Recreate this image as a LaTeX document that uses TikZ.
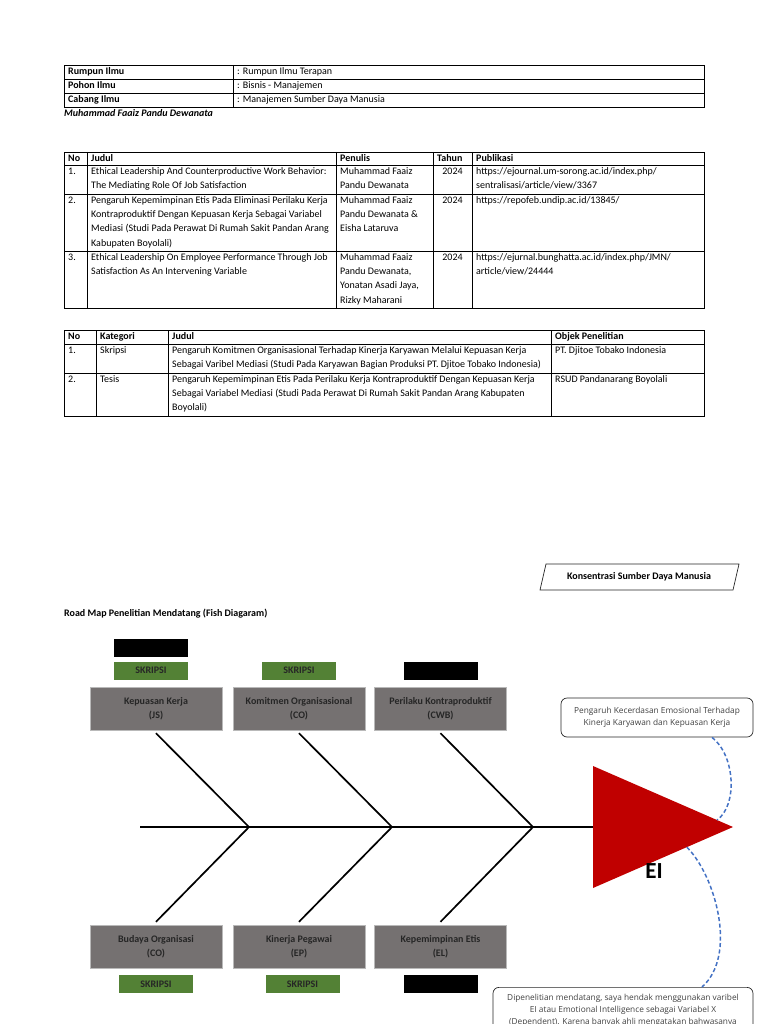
\documentclass[tikz,border=0pt]{standalone}
\usepackage{fontspec}
\setmainfont{Carlito}
\newfontfamily\notefont{Open Sans}
\usetikzlibrary{positioning,calc}

\definecolor{boxgray}{HTML}{757171}
\definecolor{tagGreen}{HTML}{538135}
\definecolor{headRed}{HTML}{C00000}
\definecolor{linkBlue}{HTML}{4472C4}
\definecolor{textDark}{HTML}{262626}
\definecolor{noteText}{HTML}{404040}

\newcommand{\tabfont}{\fontsize{10}{14.3}\selectfont}
\newcommand{\cellstrut}{\rule{0pt}{9pt}}

\begin{document}
\begin{tikzpicture}[x=1pt, y=-1pt,
  cell/.style={anchor=north west, inner sep=0pt, align=left, font=\tabfont, execute at begin node=\cellstrut},
  head/.style={cell, font=\tabfont\bfseries},
  year/.style={cell, anchor=north, align=center},
  grid/.style={line width=0.7pt},
  factor/.style={fill=boxgray, draw=gray!55, minimum width=132, minimum height=43, inner sep=0pt,
    align=center, font=\fontsize{10}{14}\selectfont\bfseries, text=textDark},
  tag/.style={minimum width=74, minimum height=18, inner sep=0pt, font=\fontsize{10}{12}\selectfont\bfseries},
  skripsi/.style={tag, fill=tagGreen, text=textDark},
  hidden/.style={tag, fill=black},
  bone/.style={line width=1.7pt},
  note/.style={draw=textDark, line width=0.7pt, rounded corners=6pt, align=center, inner sep=0pt,
    font=\notefont\fontsize{8.3}{12}\selectfont, text=noteText},
  link/.style={linkBlue, dash pattern=on 4pt off 2.5pt, line width=1.5pt}
]
\useasboundingbox (0,0) rectangle (768,1024);

% bidang ilmu
\draw[grid] (64,65) rectangle (704,107);
\draw[grid] (64,79) -- (704,79) (64,93) -- (704,93) (233,65) -- (233,107);
\node[head] (rumpun) at (68,65) {Rumpun Ilmu};
\node[head] (pohon) at (68,79) {Pohon Ilmu};
\node[head] (cabang) at (68,93) {Cabang Ilmu};
\node[cell] (rumpunv) at (237,65) {: Rumpun Ilmu Terapan};
\node[cell] (pohonv) at (237,79) {: Bisnis - Manajemen};
\node[cell] (cabangv) at (237,93) {: Manajemen Sumber Daya Manusia};
\node[cell, font=\tabfont\bfseries\itshape] (peneliti) at (64,107) {Muhammad Faaiz Pandu Dewanata};

% publikasi
\draw[grid] (64,152) rectangle (704,308);
\draw[grid] (64,165) -- (704,165) (64,194) -- (704,194) (64,251) -- (704,251);
\foreach \x in {87,336,433,472} \draw[grid] (\x,152) -- (\x,308);
\node[head] (pno) at (68,152) {No};
\node[head] (pjudul) at (91,152) {Judul};
\node[head] (ppenulis) at (340,152) {Penulis};
\node[head] (ptahun) at (437,152) {Tahun};
\node[head] (ppub) at (476,152) {Publikasi};

\node[cell] (p1no) at (68,165) {1.};
\node[cell] (p1judul) at (91,165) {\cellstrut Ethical Leadership And Counterproductive Work Behavior:\\The Mediating Role Of Job Satisfaction};
\node[cell] (p1penulis) at (340,165) {\cellstrut Muhammad Faaiz\\Pandu Dewanata};
\node[year] (p1tahun) at (452.5,165) {2024};
\node[cell] (p1pub) at (476,165) {\cellstrut https://ejournal.um-sorong.ac.id/index.php/\\sentralisasi/article/view/3367};

\node[cell] (p2no) at (68,194) {2.};
\node[cell] (p2judul) at (91,194) {\cellstrut Pengaruh Kepemimpinan Etis Pada Eliminasi Perilaku Kerja\\Kontraproduktif Dengan Kepuasan Kerja Sebagai Variabel\\Mediasi (Studi Pada Perawat Di Rumah Sakit Pandan Arang\\Kabupaten Boyolali)};
\node[cell] (p2penulis) at (340,194) {\cellstrut Muhammad Faaiz\\Pandu Dewanata \&\\Eisha Lataruva};
\node[year] (p2tahun) at (452.5,194) {2024};
\node[cell] (p2pub) at (476,194) {https://repofeb.undip.ac.id/13845/};

\node[cell] (p3no) at (68,251) {3.};
\node[cell] (p3judul) at (91,251) {\cellstrut Ethical Leadership On Employee Performance Through Job\\Satisfaction As An Intervening Variable};
\node[cell] (p3penulis) at (340,251) {\cellstrut Muhammad Faaiz\\Pandu Dewanata,\\Yonatan Asadi Jaya,\\Rizky Maharani};
\node[year] (p3tahun) at (452.5,251) {2024};
\node[cell] (p3pub) at (476,251) {\cellstrut https://ejurnal.bunghatta.ac.id/index.php/JMN/\\article/view/24444};

% skripsi / tesis
\draw[grid] (64,330) rectangle (704,416);
\draw[grid] (64,344) -- (704,344) (64,373) -- (704,373);
\foreach \x in {96,168,551} \draw[grid] (\x,330) -- (\x,416);
\node[head] (sno) at (68,330) {No};
\node[head] (skat) at (100,330) {Kategori};
\node[head] (sjudul) at (172,330) {Judul};
\node[head] (sobjek) at (555,330) {Objek Penelitian};

\node[cell] (s1no) at (68,344) {1.};
\node[cell] (s1kat) at (100,344) {Skripsi};
\node[cell] (s1judul) at (172,344) {\cellstrut Pengaruh Komitmen Organisasional Terhadap Kinerja Karyawan Melalui Kepuasan Kerja\\Sebagai Varibel Mediasi (Studi Pada Karyawan Bagian Produksi PT. Djitoe Tobako Indonesia)};
\node[cell] (s1objek) at (555,344) {PT. Djitoe Tobako Indonesia};

\node[cell] (s2no) at (68,373) {2.};
\node[cell] (s2kat) at (100,373) {Tesis};
\node[cell] (s2judul) at (172,373) {\cellstrut Pengaruh Kepemimpinan Etis Pada Perilaku Kerja Kontraproduktif Dengan Kepuasan Kerja\\Sebagai Variabel Mediasi (Studi Pada Perawat Di Rumah Sakit Pandan Arang Kabupaten\\Boyolali)};
\node[cell] (s2objek) at (555,373) {RSUD Pandanarang Boyolali};

% konsentrasi
\node[font=\fontsize{10}{12}\selectfont\bfseries] (konsentrasi) at (639,577) {Konsentrasi Sumber Daya Manusia};
\draw[draw=textDark, line width=0.7pt] (540,590) -- (546,564) -- (739,564) -- (733,590) -- cycle;

\node[head] (roadmap) at (64,607) {Road Map Penelitian Mendatang (Fish Diagaram)};

% fish diagram
\node[factor] (js) at (156,708.5) {Kepuasan Kerja\\(JS)};
\node[factor] (co) at (299,708.5) {Komitmen Organisasional\\(CO)};
\node[factor] (cwb) at (440.5,708.5) {Perilaku Kontraproduktif\\(CWB)};
\node[factor] (bo) at (156,946.5) {Budaya Organisasi\\(CO)};
\node[factor] (ep) at (299,946.5) {Kinerja Pegawai\\(EP)};
\node[factor] (el) at (440.5,946.5) {Kepemimpinan Etis\\(EL)};

\node[skripsi, above=7pt of js, xshift=-5] (jstag) {SKRIPSI};
\node[hidden, above=4pt of jstag] (jsbar) {};
\node[skripsi, above=7pt of co] (cotag) {SKRIPSI};
\node[hidden, above=7pt of cwb] (cwbbar) {};
\node[skripsi, below=7pt of bo] (botag) {SKRIPSI};
\node[skripsi, below=7pt of ep, xshift=3.5] (eptag) {SKRIPSI};
\node[hidden, below=7pt of el] (elbar) {};

\coordinate (tail) at (140,827);
\coordinate (j1) at (249,827);
\coordinate (j2) at (392,827);
\coordinate (j3) at (533,827);
\coordinate (tl) at (593,766);
\coordinate (bl) at (593,888);
\coordinate (tip) at (733,827);
\coordinate (head) at ($(tl)!0.5!(bl)$);
\coordinate (e1) at ($(tl)!0.886!(tip)$);
\coordinate (e2) at ($(bl)!0.67!(tip)$);

\draw[bone] (tail) -- (head);
\draw[bone] ([yshift=-3]js.south) -- (j1);
\draw[bone] ([yshift=-3]co.south) -- (j2);
\draw[bone] ([yshift=-3]cwb.south) -- (j3);
\draw[bone] ([yshift=3]bo.north) -- (j1);
\draw[bone] ([yshift=3]ep.north) -- (j2);
\draw[bone] ([yshift=3]el.north) -- (j3);
\fill[headRed] (tl) -- (tip) -- (bl) -- cycle;
\node[font=\fontsize{23}{23}\selectfont\bfseries] (ei) at (654,871) {EI};

% catatan
\node[note, minimum width=192, minimum height=39] (plan) at (657,717.5) {Pengaruh Kecerdasan Emosional Terhadap\\Kinerja Karyawan dan Kepuasan Kerja};
\node[note, minimum width=260, anchor=north, inner ysep=7pt] (reason) at (623,987) {Dipenelitian mendatang, saya hendak menggunakan varibel\\EI atau Emotional Intelligence sebagai Variabel X\\(Dependent). Karena banyak ahli mengatakan bahwasanya};
\draw[link] ([xshift=55]plan.south) .. controls (735,755) and (738,805) .. (e1);
\draw[link] (e2) .. controls (715,875) and (738,955) .. ([xshift=79]reason.north);
\end{tikzpicture}
\end{document}
